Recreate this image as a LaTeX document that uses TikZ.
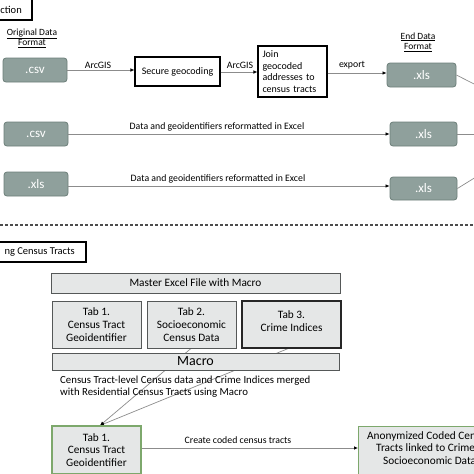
\documentclass[tikz,border=0pt]{standalone}
\usepackage{fontspec}
\setmainfont{Carlito}
\usetikzlibrary{arrows.meta,backgrounds}
\definecolor{fmtfill}{RGB}{143,160,156}
\definecolor{fmtdraw}{RGB}{108,126,121}
\definecolor{tabfill}{RGB}{229,231,231}
\definecolor{tabdraw}{RGB}{85,88,88}
\definecolor{greendraw}{RGB}{125,168,108}
\definecolor{linegray}{RGB}{140,140,140}
\tikzset{
  fmtbox/.style={draw=fmtdraw, fill=fmtfill, rounded corners=3pt, line width=0.8pt, text=white, font=\fontsize{13}{14}\selectfont, inner sep=0pt},
  plainbox/.style={draw=black, fill=white, line width=1.1pt, font=\fontsize{10}{11.5}\selectfont, inner sep=0pt},
  tabbox/.style={draw=tabdraw, fill=tabfill, line width=0.9pt, font=\fontsize{11.3}{12.8}\selectfont, align=center, inner sep=0pt},
  greenbox/.style={draw=greendraw, fill=tabfill, line width=1.1pt, font=\fontsize{11.3}{12.8}\selectfont, align=center, inner sep=0pt},
  lbl/.style={font=\fontsize{9.8}{11}\selectfont, inner sep=0pt},
  hdr/.style={font=\fontsize{9.5}{10.5}\selectfont, inner sep=0pt, align=center},
  conn/.style={draw=linegray, line width=0.7pt, -{Latex[length=4pt,width=3.5pt,fill=black,color=black]}},
  plainline/.style={draw=linegray, line width=0.7pt},
}
\begin{document}
\begin{tikzpicture}[x=1pt,y=-1pt]
\useasboundingbox (0,0) rectangle (474,474);
\clip (0,0) rectangle (474,474);
% top section header
\node[draw=black, line width=1.1pt, minimum width=50pt, minimum height=25pt, inner sep=0pt] (hdrA) at (7,7.5) {};
\node[anchor=east, font=\fontsize{10.5}{12}\selectfont, inner sep=0pt] (hdrAt) at (22,10) {ction};
\node[hdr] (orig) at (32,38) {\underline{Original Data}\\\underline{Format}};
\node[hdr] (endf) at (418,42) {\underline{End Data}\\\underline{Format}};
% row 1
\node[fmtbox, minimum width=64pt, minimum height=24pt] (csv1) at (35,70) {.csv};
\node[plainbox, minimum width=85pt, minimum height=29pt] (geo) at (177.5,71.5) {Secure geocoding};
\node[plainbox, minimum width=69pt, minimum height=51pt, align=left, text width=60pt, font=\fontsize{10}{11.4}\selectfont] (join) at (292.5,71.5) {Join\\geocoded\\addresses to\\census tracts};
\node[fmtbox, minimum width=69pt, minimum height=24pt] (xls1) at (421.5,75) {.xls};
\coordinate (out1) at (476,85);
\draw[conn] (csv1.east) -- (geo.west |- csv1.east);
\draw[conn] (geo.east |- 0,72) -- (join.west |- 0,72);
\draw[conn] (join.east |- 0,73) -- (xls1.west |- 0,73);
\draw[plainline] (xls1.east) -- (out1);
\node[lbl] (l1) at (98,65) {ArcGIS};
\node[lbl] (l2) at (240,65) {ArcGIS};
\node[lbl] (l3) at (352,65) {export};
% row 2
\node[fmtbox, minimum width=64pt, minimum height=24pt] (csv2) at (36,134) {.csv};
\node[fmtbox, minimum width=67pt, minimum height=24pt] (xls2) at (423.5,134) {.xls};
\coordinate (out2) at (476,134);
\draw[conn] (csv2.east) -- (xls2.west);
\draw[plainline] (xls2.east) -- (out2);
\node[lbl] (l4) at (217,127) {Data and geoidentifiers reformatted in Excel};
% row 3
\node[fmtbox, minimum width=64pt, minimum height=24pt] (xls3a) at (36,184) {.xls};
\node[fmtbox, minimum width=67pt, minimum height=23pt] (xls3b) at (423.5,188.5) {.xls};
\coordinate (out3) at (476,177);
\draw[conn] (xls3a.east |- 0,186) -- (xls3b.west |- 0,186);
\draw[plainline] (xls3b.east) -- (out3);
\node[lbl] (l5) at (218,179) {Data and geoidentifiers reformatted in Excel};
% divider
\coordinate (dL) at (0,225);
\coordinate (dR) at (474,225);
\draw[draw=black!70, line width=1.1pt, dash pattern=on 3pt off 2pt] (dL) -- (dR);
% bottom section header
\node[draw=black, line width=1.1pt, minimum width=100pt, minimum height=20pt, inner sep=0pt] (hdrB) at (36,252) {};
\node[anchor=east, font=\fontsize{10.5}{12}\selectfont, inner sep=0pt] (hdrBt) at (75,252) {ng Census Tracts};
% master file
\node[tabbox, minimum width=289pt, minimum height=20pt] (master) at (195.5,283) {Master Excel File with Macro};
\node[tabbox, minimum width=89pt, minimum height=47pt] (tab1) at (96.5,324.5) {Tab 1.\\Census Tract\\Geoidentifier};
\node[tabbox, minimum width=89pt, minimum height=47pt] (tab2) at (191.5,324.5) {Tab 2.\\Socioeconomic\\Census Data};
\node[tabbox, draw=black!85, line width=1.2pt, minimum width=99pt, minimum height=47pt, text height=26pt, text depth=12pt] (tab3) at (291.5,324.5) {Tab 3.\\Crime Indices};
\node[tabbox, minimum width=287pt, minimum height=17pt, font=\fontsize{14}{15}\selectfont] (macro) at (195.5,361.5) {Macro};
\node[anchor=north west, inner sep=0pt, align=left, font=\fontsize{10.8}{11.8}\selectfont] (merge) at (60,376) {Census Tract-level Census data and Crime Indices merged\\with Residential Census Tracts using Macro};
% final row
\node[greenbox, minimum width=89pt, minimum height=48pt] (tab1b) at (96.5,450) {Tab 1.\\Census Tract\\Geoidentifier};
\node[greenbox, minimum width=200pt, minimum height=52pt, anchor=north west] (anon) at (358,426) {};
\node[anchor=north west, inner sep=0pt, align=left, font=\fontsize{11.3}{12.5}\selectfont] (anont) at (367,431) {Anonymized Coded Census\\\hspace*{9pt}Tracts linked to Crime and\\\hspace*{16pt}Socioeconomic Data};
\draw[conn] (tab1b.east |- 0,448) -- (anon.west |- 0,448);
\node[lbl] (l6) at (238,440) {Create coded census tracts};
\begin{scope}[on background layer]
\draw[conn] (tab2.south -| 191,0) -- (tab1b.north -| 100,0);
\draw[conn] (tab3.south -| 288,0) -- (tab1b.north -| 100,0);
\end{scope}
\end{tikzpicture}
\end{document}
